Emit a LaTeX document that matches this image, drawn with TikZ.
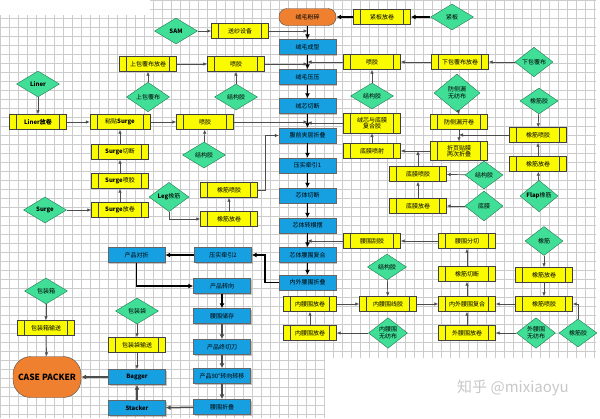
\documentclass[tikz,border=0pt]{standalone}
\usepackage{fontspec}
\setmainfont{Noto Sans CJK SC}
\usetikzlibrary{arrows.meta,shapes.geometric,shadows}

\definecolor{padyellow}{RGB}{250,250,0}
\definecolor{linecyan}{RGB}{22,160,226}
\definecolor{srcgreen}{RGB}{64,222,150}
\definecolor{pulporange}{RGB}{238,128,48}

\begin{document}
\begin{tikzpicture}[
    x=1pt,y=-1pt,
    every node/.style={font=\fontsize{6}{7}\selectfont, inner sep=0pt, align=center},
    unwind/.style={draw=black!75, fill=padyellow, minimum width=57pt, minimum height=15pt,
      path picture={\draw[black!75]
        ([xshift=7pt]path picture bounding box.north west) -- ([xshift=7pt]path picture bounding box.south west)
        ([xshift=-7pt]path picture bounding box.north east) -- ([xshift=-7pt]path picture bounding box.south east);}},
    station/.style={draw=black!60, fill=linecyan, minimum width=57pt, minimum height=15pt,
      drop shadow={shadow xshift=1pt, shadow yshift=-1pt, fill=black!45}},
    source/.style={diamond, draw=srcgreen!55!black, fill=srcgreen, minimum width=43pt, minimum height=26pt},
    bulk/.style={draw=black!70, fill=pulporange, rounded corners=8pt, minimum width=57pt, minimum height=17pt},
    main/.style={-{Latex[length=5pt,width=5pt]}, line width=1.8pt},
    flow/.style={-{Latex[length=5pt,width=5pt]}, line width=1.5pt, draw=black!70},
    feed/.style={-{Latex[length=4pt,width=3.5pt]}, line width=0.7pt, draw=black!70}
  ]
    \useasboundingbox (0,0) rectangle (600,418);
    % grid paper
    \begin{scope}
      \clip (0,15) -- (150,15) -- (150,0) -- (596,0) -- (596,358) -- (325,358) -- (325,418) -- (0,418) -- cycle;
      \draw[black!20, line width=0.35pt, step=9pt] (0,0) grid (600,418);
    \end{scope}

    % main line
    \node[bulk] (mill) at (307.5,17) {绒毛粉碎};
    \node[station] (form) at (307.5,47) {绒毛成型};
    \node[station] (press) at (307.5,77) {绒毛压压};
    \node[station] (cut1) at (307.5,106) {绒芯切断};
    \node[station] (fold1) at (307.5,135.5) {腹前夹层折叠};
    \node[station] (pull1) at (307.5,165.5) {压实牵引1};
    \node[station] (cut2) at (307.5,195.5) {芯体切断};
    \node[station] (swing) at (307.5,225.5) {芯体转横摆};
    \node[station] (waist) at (307.5,255) {芯体腰围复合};
    \node[station] (wfold) at (307.5,282.5) {内外腰围折叠};
    \node[station] (pull2) at (223,255) {压实牵引2};
    \node[station] (half) at (136.5,255) {产品对折};
    \node[station] (turn2) at (222,286) {产品转向};
    \node[station] (store) at (222,316) {腰围储存};
    \node[station] (knife) at (222,347) {产品终切刀};
    \node[station] (rot) at (222,376) {产品90°转向转移};
    \node[station] (bfold) at (222,407) {腰围折叠};
    \node[station, font=\fontsize{6}{7}\selectfont\bfseries] (bagger) at (137,377) {Bagger};
    \node[station, font=\fontsize{6}{7}\selectfont\bfseries] (stacker) at (137,408) {Stacker};
    \node[bulk, rounded corners=18pt, minimum width=68pt, minimum height=41pt,
      font=\fontsize{8.5}{10}\selectfont\bfseries] (packer) at (47,377) {CASE PACKER};

    % unwinds and glue
    \node[unwind] (rollfeed) at (382,17) {紧板放卷};
    \node[unwind] (yarn) at (240,31) {送纱设备};
    \node[unwind] (topwrap) at (148,64) {上包覆布放卷};
    \node[unwind] (glueA) at (236,64) {喷胶};
    \node[unwind] (glueB) at (372,62) {喷胶};
    \node[unwind] (botwrap) at (460,62) {下包覆布放卷};
    \node[unwind, font=\fontsize{6}{7}\selectfont\bfseries] (linerroll) at (38,122) {Liner放卷};
    \node[unwind, minimum width=60pt] (surgebond) at (120,122) {粘贴\textbf{Surge}};
    \node[unwind] (glueC) at (205,122) {喷胶};
    \node[unwind, minimum height=20pt, font=\fontsize{6}{6.5}\selectfont] (coreglue) at (372,123) {绒芯与底膜\\复合胶};
    \node[unwind] (leakroll) at (459,122) {防侧漏开卷};
    \node[unwind] (flapglue) at (538,135) {橡筋喷胶};
    \node[unwind] (surgecut) at (120,152) {\textbf{Surge}切断};
    \node[unwind] (filmspray) at (372,151) {底膜喷射};
    \node[unwind, minimum height=19pt, font=\fontsize{6}{6.5}\selectfont] (cuffs) at (459,151) {折页贴膜\\两次折叠};
    \node[unwind] (flaproll) at (538,164) {橡筋放卷};
    \node[unwind] (filmglue) at (418,174) {底膜喷胶};
    \node[unwind] (surgeglue) at (120,181) {\textbf{Surge}喷胶};
    \node[unwind] (legglue) at (229,190) {橡筋喷胶};
    \node[unwind] (filmroll) at (418,206) {底膜放卷};
    \node[unwind] (surgeroll) at (120,210) {\textbf{Surge}放卷};
    \node[unwind] (legroll) at (229,219) {橡筋放卷};
    \node[unwind] (waistglue) at (372,241) {腰围刮胶};
    \node[unwind] (waistslit) at (467,241) {腰围分切};
    \node[unwind] (elcut) at (467,274) {橡筋切断};
    \node[unwind] (elroll) at (544,275) {橡筋放卷};
    \node[unwind, minimum width=53pt] (innertop) at (310,304) {内腰围放卷};
    \node[unwind] (innerglue) at (388,304) {内腰围线胶};
    \node[unwind] (waistlam) at (467,304) {内外腰围复合};
    \node[unwind] (elglue) at (544,304) {橡筋喷胶};
    \node[unwind, minimum width=53pt] (innerroll) at (310,333) {内腰围放卷};
    \node[unwind] (outerroll) at (467,333) {外腰围放卷};
    \node[unwind] (boxfeed) at (46,328) {包装箱输送};
    \node[unwind] (bagfeed) at (137,345) {包装袋输送};

    % materials
    \node[source] (plate) at (452,17) {紧板};
    \node[source, font=\fontsize{6}{7}\selectfont\bfseries] (sam) at (176,31) {SAM};
    \node[source] (topwrapsrc) at (148,97) {上包覆布};
    \node[source] (glueAsrc) at (236,97) {结构胶};
    \node[source] (glueBsrc) at (372,96) {结构胶};
    \node[source, minimum width=38pt] (botwrapsrc) at (534,62) {下包覆布};
    \node[source, font=\fontsize{6}{7}\selectfont\bfseries] (liner) at (38,84) {Liner};
    \node[source, minimum width=46pt, minimum height=38pt] (leaksrc) at (457,93) {防侧漏\\无纺布};
    \node[source, minimum width=38pt] (flapsrc) at (539,101) {橡筋胶};
    \node[source] (glueCsrc) at (204,155) {结构胶};
    \node[source, minimum width=38pt, minimum height=28pt] (filmglsrc) at (484,175) {结构胶};
    \node[source, font=\fontsize{6}{7}\selectfont\bfseries] (surge) at (45,210) {Surge};
    \node[source, minimum width=40pt, minimum height=29pt] (leg) at (169,197) {\textbf{Leg}橡筋};
    \node[source, minimum width=38pt, minimum height=29pt] (flap) at (539,196) {\textbf{Flap}橡筋};
    \node[source, minimum width=38pt, minimum height=30pt] (film) at (484,206) {底膜};
    \node[source, minimum width=38pt, minimum height=29pt] (elastic) at (544,241) {橡筋};
    \node[source, minimum width=39pt] (innerglsrc) at (387,267) {结构胶};
    \node[source, minimum width=39pt, minimum height=29pt] (innerfab) at (388,333) {内腰围\\无纺布};
    \node[source, minimum width=39pt, minimum height=28pt] (outerfab) at (536,333) {外腰围\\无纺布};
    \node[source, minimum width=38pt, minimum height=28pt] (elgluesrc) at (578,333) {橡筋胶};
    \node[source] (box) at (46,291) {包装箱};
    \node[source] (bag) at (137,311) {包装袋};

    \node[text=black!22, font=\fontsize{15}{15}\selectfont] (mark) at (513,388) {知乎 @mixiaoyu};

    % main flow
    \draw[main] (plate) -- (rollfeed);
    \draw[main] (rollfeed) -- (mill);
    \draw[main] (mill) -- (form);
    \draw[main] (form) -- (press);
    \draw[main] (press) -- (cut1);
    \draw[main] (cut1) -- (fold1);
    \draw[main] (fold1) -- (pull1);
    \draw[main] (pull1) -- (cut2);
    \draw[main] (cut2) -- (swing);
    \draw[main] (swing) -- (waist);
    \draw[main] (waist) -- (wfold);
    \draw[main] (wfold.west) -- ++(-14,0) |- (pull2.east);
    \draw[main] (pull2) -- (half);
    \draw[main] (half.south) |- (turn2.west);
    \draw[main] (turn2) -- (store);
    \draw[flow] (store) -- (knife);
    \draw[flow] (knife) -- (rot);
    \draw[flow] (rot) -- (bfold);
    \draw[flow] (bfold) -- (stacker);
    \draw[flow] (stacker) -- (bagger);
    \draw[flow] (bagger) -- (packer);

    % feeds
    \draw[feed] (sam) -- (yarn);
    \draw[feed] (yarn.east) -- (yarn -| form);
    \draw[feed] (topwrapsrc) -- (topwrap);
    \draw[feed] (topwrap) -- (glueA);
    \draw[feed] (glueAsrc) -- (glueA);
    \draw[feed] (glueA.east) -- (glueA -| form);
    \draw[feed] (botwrapsrc) -- (botwrap);
    \draw[feed] (botwrap) -- (glueB);
    \draw[feed] (glueBsrc) -- (glueB);
    \draw[feed] (glueB.west) -- (glueB -| form);
    \draw[feed] (liner) -- (linerroll);
    \draw[feed] (linerroll) -- (surgebond);
    \draw[feed] (surgebond) -- (glueC);
    \draw[feed] (glueCsrc) -- (glueC);
    \draw[feed] (glueC.east) -- (glueC -| form);
    \draw[feed] (surge) -- (surgeroll);
    \draw[feed] (surgeroll) -- (surgeglue);
    \draw[feed] (surgeglue) -- (surgecut);
    \draw[feed] (surgecut) -- (surgebond);
    \draw[feed] (leg.south) |- (legroll.west);
    \draw[feed] (legroll) -- (legglue);
    \draw[feed] (legglue.east) -- ++(8,0) |- (fold1.west);
    \draw[feed] (coreglue.west) -- (coreglue -| form);
    \draw[feed] (filmspray) -- (coreglue);
    \draw[feed] (cuffs) -- (filmspray);
    \draw[feed] (filmglue.north) -- (filmglue |- filmspray);
    \draw[feed] (filmroll) -- (filmglue);
    \draw[feed] (filmglsrc) -- (filmglue);
    \draw[feed] (film) -- (filmroll);
    \draw[feed] (leaksrc) -- (leakroll);
    \draw[feed] (leakroll) -- (cuffs);
    \draw[feed] (flapglue.west) -- (flapglue -| leakroll);
    \draw[feed] (flapsrc) -- (flapglue);
    \draw[feed] (flaproll) -- (flapglue);
    \draw[feed] (flap) -- (flaproll);
    \draw[feed] (waistglue.west) -- (waistglue -| form);
    \draw[feed] (waistslit) -- (waistglue);
    \draw[feed] (elcut) -- (waistslit);
    \draw[feed] (waistlam) -- (elcut);
    \draw[feed] (elastic) -- (elroll);
    \draw[feed] (elroll) -- (elglue);
    \draw[feed] (elgluesrc.north) |- (elglue.east);
    \draw[feed] (elglue) -- (waistlam);
    \draw[feed] (outerfab) -- (outerroll);
    \draw[feed] (outerroll) -- (waistlam);
    \draw[feed] (innerglue) -- (waistlam);
    \draw[feed] (innerglsrc) -- (innerglue);
    \draw[feed] (innertop) -- (innerglue);
    \draw[feed] (innerroll) -- (innertop);
    \draw[feed] (innerfab) -- (innerroll);
    \draw[feed] (box) -- (boxfeed);
    \draw[feed] (boxfeed) -- (packer);
    \draw[feed] (bag) -- (bagfeed);
    \draw[feed] (bagfeed) -- (bagger);
  \end{tikzpicture}
\end{document}
